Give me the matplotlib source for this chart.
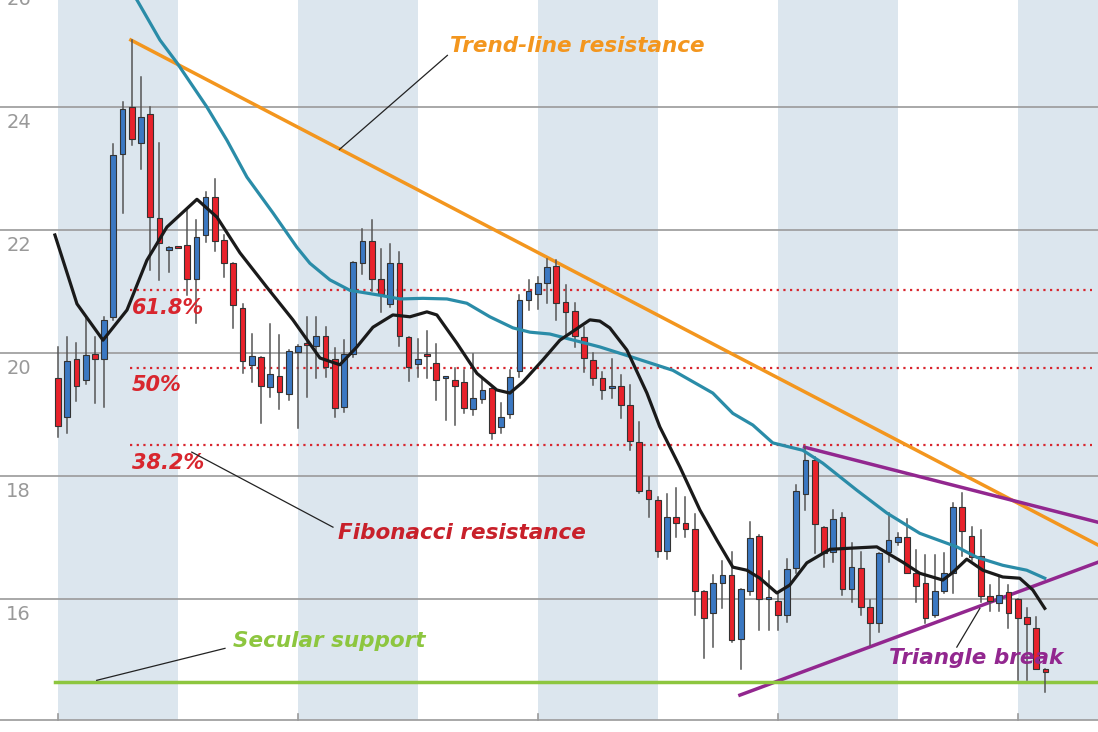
import matplotlib
matplotlib.use("Agg")
import matplotlib.pyplot as plt
from matplotlib.patches import Rectangle

opens = [19.59,18.96,19.90,19.56,19.98,19.90,20.58,23.24,24.00,23.41,23.89,22.19,21.67,21.72,21.75,21.20,21.92,22.54,21.84,21.46,
         20.73,19.80,19.93,19.45,19.62,19.33,20.01,20.16,20.11,20.27,19.90,19.12,19.99,21.46,21.82,21.20,20.79,21.46,20.26,19.82,
         19.97,19.84,19.59,19.57,19.53,19.09,19.25,19.43,18.80,19.01,19.71,20.86,20.96,21.14,21.41,20.83,20.68,20.26,19.88,19.59,
         19.43,19.46,19.15,18.55,17.77,17.61,16.79,17.33,17.23,17.14,16.14,15.77,16.27,16.39,15.36,16.14,17.02,16.01,15.97,15.75,
         16.50,17.71,18.26,17.17,16.76,17.33,16.17,16.50,15.88,15.62,16.76,16.93,17.01,16.42,16.27,15.74,16.13,16.42,17.49,17.02,
         16.70,16.05,15.94,16.12,16.01,15.71,15.53,14.86]
highs = [20.10,20.26,20.16,20.57,20.26,20.58,23.40,24.08,25.09,24.49,24.00,23.41,21.72,21.72,22.32,22.16,22.62,22.83,21.92,21.46,
         20.79,20.31,19.93,20.47,20.29,20.05,20.13,20.58,20.58,20.42,20.08,20.21,21.48,22.01,22.16,21.70,21.77,21.64,20.26,20.23,
         20.36,20.14,19.61,19.75,19.72,19.98,19.59,19.43,19.19,19.72,20.94,21.19,21.24,21.53,21.51,21.10,20.81,20.42,20.00,19.69,
         19.90,19.64,19.48,18.88,17.99,17.66,17.71,17.80,17.66,17.38,16.14,16.39,16.62,16.76,16.17,17.26,17.04,16.45,16.10,16.66,
         17.85,18.47,18.31,17.17,17.45,17.40,16.91,16.76,15.98,16.75,17.40,17.07,17.30,16.80,16.72,16.72,16.75,17.56,17.73,17.17,
         17.13,16.23,16.36,16.23,16.01,15.86,15.71,14.86]
lows = [18.63,18.70,19.22,19.50,19.19,19.12,20.53,22.28,23.38,22.99,21.35,21.19,21.32,21.71,20.94,20.49,21.81,21.66,21.23,20.40,
        19.67,19.53,18.86,19.28,19.09,19.23,18.79,19.28,19.59,19.61,18.96,19.04,19.93,21.28,21.01,20.66,20.75,20.11,19.54,19.61,
        19.59,19.23,18.91,18.83,19.02,18.99,19.19,18.60,18.70,18.94,19.61,20.70,20.71,20.81,20.53,20.29,20.10,19.69,19.48,19.25,
        19.27,18.94,18.42,17.72,17.34,16.68,16.66,17.01,17.01,15.74,15.04,15.22,15.85,15.30,14.86,16.06,15.50,15.50,15.50,15.63,
        16.42,17.45,16.75,16.52,16.60,16.06,15.95,15.74,15.25,15.46,16.60,16.88,16.42,15.95,15.61,15.71,16.10,16.10,16.70,16.63,
        15.95,15.81,15.81,15.53,14.68,14.68,14.86,14.49]
closes = [18.81,19.87,19.46,19.97,19.90,20.53,23.22,23.97,23.48,23.84,22.21,21.79,21.72,21.71,21.20,21.89,22.54,21.82,21.46,20.78,
          19.87,19.95,19.46,19.66,19.36,20.03,20.11,20.13,20.27,19.77,19.10,19.99,21.48,21.82,21.20,20.96,21.46,20.27,19.77,19.90,
          19.95,19.57,19.61,19.46,19.10,19.27,19.40,18.70,18.96,19.61,20.86,21.01,21.14,21.40,20.81,20.66,20.27,19.92,19.59,19.40,
          19.43,19.15,18.57,17.76,17.63,16.79,17.33,17.23,17.14,16.14,15.70,16.26,16.39,15.33,16.17,16.99,16.01,16.01,15.75,16.49,
          17.76,18.26,17.22,16.75,17.30,16.17,16.52,15.87,15.62,16.75,16.96,17.01,16.42,16.21,15.69,16.13,16.42,17.49,17.10,16.68,
          16.05,15.97,16.07,15.78,15.69,15.60,14.86,14.81]

ma_short_x = [-0.33,2.06,4.88,7.48,9.64,11.81,15.06,17.23,19.72,22.64,25.46,28.39,30.55,32.39,34.13,36.29,38.14,39.98,41.06,43.23,
              45.40,47.56,48.97,50.38,52.55,54.39,57.64,58.72,59.80,61.65,63.82,65.22,67.39,69.56,71.40,73.13,74.65,76.06,77.90,79.31,
              81.15,83.64,86.13,88.73,91.55,93.39,95.88,96.86,98.48,100.22,102.38,104.22,105.63,106.93]
ma_short_y = [21.92,20.80,20.21,20.70,21.51,22.05,22.50,22.21,21.63,21.07,20.54,19.92,19.81,20.10,20.42,20.62,20.59,20.67,20.62,20.16,
              19.67,19.40,19.35,19.53,19.89,20.21,20.54,20.52,20.41,20.05,19.35,18.80,18.15,17.45,16.96,16.52,16.47,16.34,16.10,16.23,
              16.59,16.81,16.83,16.85,16.60,16.42,16.31,16.42,16.65,16.47,16.36,16.34,16.15,15.85]
ma_long_x = [6.72,8.56,11.05,12.89,16.14,18.31,20.48,23.29,25.89,27.30,29.47,31.64,34.89,37.05,39.54,42.15,44.31,46.80,49.30,51.14,
             53.30,58.72,62.30,66.63,70.96,73.13,75.30,77.46,80.71,82.88,86.57,89.82,93.39,97.40,99.57,102.38,104.98,106.93]
ma_long_y = [26.15,25.74,25.09,24.72,24.00,23.46,22.86,22.28,21.72,21.46,21.19,21.02,20.94,20.88,20.89,20.88,20.81,20.59,20.41,20.34,
             20.31,20.10,19.93,19.72,19.35,19.02,18.83,18.54,18.42,18.21,17.77,17.40,17.07,16.85,16.68,16.55,16.47,16.34]

fib_levels = [21.02, 19.76, 18.50]
fib_labels = ["61.8%", "50%", "38.2%"]
trend_res = ([7.9, 112.7], [25.09, 16.88])
tri_upper = ([80.9, 112.7], [18.47, 17.25])
tri_lower = ([73.9, 112.7], [14.44, 16.60])
support = 14.65
yticks = [16, 18, 20, 22, 24, 26]
bands = [0, 26, 52, 78, 104]

NARROW = ["Liberation Sans Narrow", "DejaVu Sans"]

fig = plt.figure(figsize=(10.98, 7.32), dpi=100)
ax = fig.add_axes([0, 0, 1, 1])
ax.set_xlim(-6.28, 112.7)
ax.set_ylim(13.84, 25.74)
ax.axis("off")

for b in bands:
    ax.axvspan(b, b + 13, ymin=(14.03 - 13.84) / (25.74 - 13.84), color="#dce6ee", lw=0, zorder=0)
for t in yticks:
    ax.axhline(t, color="#9a9a9a", lw=1.2, zorder=1)
    ax.text(-5.6, t - 0.1, str(t), color="#999999", fontsize=14, va="top", ha="left",
            family=NARROW, zorder=1)
ax.axhline(14.03, color="#9a9a9a", lw=1.2, zorder=1)
for b in bands:
    ax.plot([b, b], [14.03, 14.13], color="#9a9a9a", lw=1.2, zorder=1)

for lvl, lab in zip(fib_levels, fib_labels):
    ax.plot([7.8, 112], [lvl, lvl], color="#d8262e", lw=1.6, ls=(0, (1, 2)), zorder=2)
    ax.text(8.0, lvl - 0.12, lab, color="#d8262e", fontsize=15, style="italic", fontweight="bold",
            va="top", family=NARROW, zorder=5)

ax.plot(trend_res[0], trend_res[1], color="#f3961e", lw=2.5, zorder=3)
ax.plot(tri_upper[0], tri_upper[1], color="#92278f", lw=2.5, zorder=3)
ax.plot(tri_lower[0], tri_lower[1], color="#92278f", lw=2.5, zorder=3)
ax.plot([-0.3, 112.7], [support, support], color="#8dc63f", lw=2.5, zorder=3)

w = 0.62
for i, (o, h, l, c) in enumerate(zip(opens, highs, lows, closes)):
    ax.plot([i, i], [l, h], color="#555555", lw=1.1, zorder=4)
    col = "#3b78c2" if c >= o else "#e8222b"
    lo, hi = min(o, c), max(o, c)
    ax.add_patch(Rectangle((i - w / 2, lo), w, max(hi - lo, 0.03), facecolor=col, edgecolor="#333333", lw=0.8, zorder=5))

ax.plot(ma_long_x, ma_long_y, color="#2a8ca8", lw=2.3, zorder=6)
ax.plot(ma_short_x, ma_short_y, color="#1a1a1a", lw=2.3, zorder=6)

tk = dict(fontsize=15.5, style="italic", fontweight="bold", va="center", family=NARROW, zorder=7)
ax.text(42.5, 25.0, "Trend-line resistance", color="#f3961e", **tk)
ax.plot([42.2, 30.5], [24.84, 23.31], color="#222222", lw=0.9, zorder=7)
ax.text(30.3, 17.07, "Fibonacci resistance", color="#c8202a", **tk)
ax.plot([29.8, 14.5], [17.17, 18.39], color="#222222", lw=0.9, zorder=7)
ax.text(19.0, 15.32, "Secular support", color="#8dc63f", **tk)
ax.plot([18.1, 4.2], [15.20, 14.68], color="#222222", lw=0.9, zorder=7)
ax.text(90.1, 15.04, "Triangle break", color="#92278f", **tk)
ax.plot([97.4, 99.9], [15.22, 15.85], color="#222222", lw=0.9, zorder=7)

fig.savefig("out.png", dpi=100)
